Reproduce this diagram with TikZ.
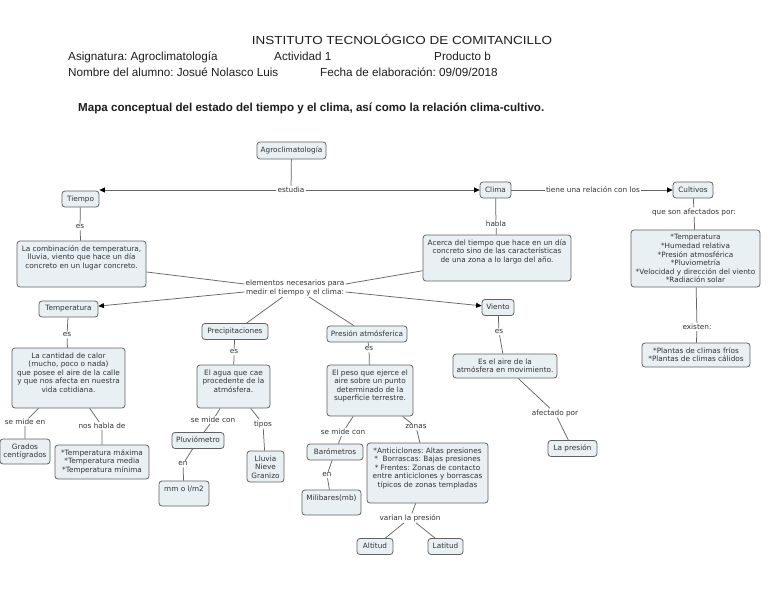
\documentclass[tikz,border=0pt]{standalone}
\usepackage{graphicx}
\usepackage{fontspec}
\setmainfont{Liberation Sans}
\newfontfamily\mapfont{DejaVu Sans}
\usetikzlibrary{arrows.meta,calc}
\frenchspacing
\definecolor{boxfill}{HTML}{E8F0F4}
\definecolor{boxline}{HTML}{626262}
\definecolor{linkline}{HTML}{666666}
\definecolor{maptext}{HTML}{333333}
\definecolor{hdrtext}{HTML}{1E1E1E}
\newcommand\cpt[3]{\parbox[c][#2pt][t]{#1pt}{\centering\vspace*{4.5pt}#3}}
\begin{document}
\begin{tikzpicture}[x=1pt,y=-1pt,
  concept/.style={draw=boxline, fill=boxfill, rounded corners=3pt, line width=0.8pt,
    font=\mapfont\fontsize{7.3}{8.6}\selectfont, text=maptext, inner sep=0pt},
  linkph/.style={align=center, font=\mapfont\fontsize{7.3}{8.6}\selectfont, text=maptext, inner sep=1pt},
  conn/.style={draw=linkline, line width=0.75pt},
  arr/.style={conn, -{Triangle[length=5.5pt,width=5pt,color=black]}},
  hdr/.style={font=\fontsize{11.7}{13}\selectfont, text=hdrtext, inner sep=0pt, anchor=base west}]
\useasboundingbox[fill=white] (0,0) rectangle (768,594);

% header
\node[hdr, anchor=base] (h1) at (402,45) {\scalebox{1.15}[1]{INSTITUTO TECNOLÓGICO DE COMITANCILLO}};
\node[hdr] (h2) at (68,60) {Asignatura: Agroclimatología};
\node[hdr] (h3) at (274,60) {Actividad 1};
\node[hdr] (h4) at (434,60) {Producto b};
\node[hdr] (h5) at (68,76) {Nombre del alumno: Josué Nolasco Luis};
\node[hdr] (h6) at (320,76) {Fecha de elaboración: 09/09/2018};
\node[hdr, font=\bfseries\fontsize{11.6}{13}\selectfont] (h7) at (78,111) {Mapa conceptual del estado del tiempo y el clima, así como la relación clima-cultivo.};

% concepts
\node[concept] (agro) at (291.5,150.5) {\cpt{69}{17}{Agroclimatología}};
\node[concept] (tiempo) at (80.5,199) {\cpt{37}{16}{Tiempo}};
\node[concept] (clima) at (495.5,190) {\cpt{31}{16}{Clima}};
\node[concept] (cultivos) at (693,190) {\cpt{40}{16}{Cultivos}};
\node[concept] (comb) at (81.5,264) {\cpt{129}{46}{La combinación de temperatura,\\ lluvia, viento que hace un día\\ concreto en un lugar concreto.}};
\node[concept] (acerca) at (497,258) {\cpt{148}{46}{Acerca del tiempo que hace en un día\\ concreto sino de las características\\ de una zona a lo largo del año.}};
\node[concept] (props) at (695.5,258.5) {\cpt{129}{57}{{}*Temperatura\\{}*Humedad relativa\\{}*Presión atmosférica\\{}*Pluviometría\\{}*Velocidad y dirección del viento\\{}*Radiación solar}};
\node[concept] (plantas) at (696,355) {\cpt{108}{24}{{}*Plantas de climas fríos\\{}*Plantas de climas cálidos}};
\node[concept] (temp) at (68.5,309) {\cpt{59}{16}{Temperatura}};
\node[concept] (precip) at (235,331.5) {\cpt{66}{16}{Precipitaciones}};
\node[concept] (presion) at (367,334) {\cpt{80}{16}{Presión atmósferica}};
\node[concept] (viento) at (498,307.5) {\cpt{32}{16}{Viento}};
\node[concept] (calor) at (68.5,378) {\cpt{113}{60}{La cantidad de calor\\ (mucho, poco o nada)\\ que posee el aire de la calle\\ y que nos afecta en nuestra\\ vida cotidiana.}};
\node[concept] (grados) at (25,451.5) {\cpt{50}{25}{Grados\\ centígrados}};
\node[concept] (tmax) at (102,462) {\cpt{94}{34}{{}*Temperatura máxima\\{}*Temperatura media\\{}*Temperatura mínima}};
\node[concept] (agua) at (233.5,386.5) {\cpt{73}{43}{El agua que cae\\ procedente de la\\ atmósfera.}};
\node[concept] (pluvio) at (198,440.5) {\cpt{52}{16}{Pluviómetro}};
\node[concept] (mm) at (184,493.5) {\cpt{50}{25}{mm o l/m2}};
\node[concept] (lluvia) at (265.5,466.5) {\cpt{37}{31}{Lluvia\\ Nieve\\ Granizo}};
\node[concept] (peso) at (370,390.5) {\cpt{86}{51}{El peso que ejerce el\\ aire sobre un punto\\ determinado de la\\ superficie terrestre.}};
\node[concept] (barom) at (335,452) {\cpt{56}{16}{Barómetros}};
\node[concept] (milib) at (331.5,502.5) {\cpt{59}{25}{Milibares(mb)}};
\node[concept] (antic) at (427.5,473) {\cpt{121}{60}{{}*Anticiclones: Altas presiones\\{}*\ \ Borrascas: Bajas presiones\\{}* Frentes: Zonas de contacto\\ entre anticiclones y borrascas\\ típicos de zonas templadas}};
\node[concept] (altitud) at (375,546.5) {\cpt{36}{16}{Altitud}};
\node[concept] (latitud) at (445.5,546.5) {\cpt{35}{16}{Latitud}};
\node[concept] (aire) at (505,366) {\cpt{104}{24}{Es el aire de la\\ atmósfera en movimiento.}};
\node[concept] (lapres) at (572.5,448.5) {\cpt{49}{16}{La presión}};

% linking phrases
\node[linkph] (estudia) at (291,190) {estudia};
\node[linkph] (tiene) at (593,190) {tiene una relación con los};
\node[linkph] (esT) at (80,227) {es};
\node[linkph] (habla) at (496,224) {habla};
\node[linkph] (afect) at (694,212) {que son afectados por:};
\node[linkph] (existen) at (697,327) {existen:};
\node[linkph] (elem) at (295,288) {elementos necesarios para\\ medir el tiempo y el clima:};
\node[linkph] (esTe) at (67,335) {es};
\node[linkph] (esPr) at (234,352) {es};
\node[linkph] (esPe) at (369,349) {es};
\node[linkph] (esVi) at (499,332) {es};
\node[linkph] (midT) at (25,422) {se mide en};
\node[linkph] (habT) at (102,426) {nos habla de};
\node[linkph] (midP) at (213,420) {se mide con};
\node[linkph] (tipos) at (263,424) {tipos};
\node[linkph] (enP) at (183,464) {en};
\node[linkph] (midPe) at (343,432) {se mide con};
\node[linkph] (zonas) at (416,427) {zonas};
\node[linkph] (enB) at (327,475) {en};
\node[linkph] (varian) at (410,518) {varían la presión};
\node[linkph] (afpor) at (555,413) {afectado por};

% connectors
\draw[conn] (agro) -- (estudia);
\draw[arr] (estudia.west) -- (tiempo.north east |- estudia.west);
\draw[arr] (estudia) -- (clima);
\draw[conn] (clima) -- (tiene);
\draw[arr] (tiene) -- (cultivos);
\draw[conn] (tiempo) -- (esT) -- (comb);
\draw[conn] (clima) -- (habla) -- (acerca);
\draw[conn] (cultivos) -- (afect) -- (props);
\draw[conn] (props) -- (existen) -- (plantas);
\draw[conn] (comb) -- ($(elem.west)+(0,-4)$);
\draw[conn] (acerca) -- ($(elem.east)+(0,-4)$);
\draw[arr] ($(elem.west)+(0,4)$) -- (temp);
\draw[arr] ($(elem.east)+(0,4)$) -- (viento);
\draw[conn] (elem) -- (precip);
\draw[conn] (elem) -- (presion);
\draw[conn] (temp) -- (esTe) -- (calor);
\draw[conn] (calor) -- (midT) -- (grados);
\draw[conn] (calor) -- (habT) -- (tmax);
\draw[conn] (precip) -- (esPr) -- (agua);
\draw[conn] (agua) -- (midP) -- (pluvio);
\draw[conn] (agua) -- (tipos) -- (lluvia);
\draw[conn] (pluvio) -- (enP) -- (mm);
\draw[conn] (presion) -- (esPe) -- (peso);
\draw[conn] (peso) -- (midPe) -- (barom);
\draw[conn] (peso) -- (zonas) -- (antic);
\draw[conn] (barom) -- (enB) -- (milib);
\draw[conn] (antic) -- (varian);
\draw[conn] (varian) -- (altitud);
\draw[conn] (varian) -- (latitud);
\draw[conn] (viento) -- (esVi) -- (aire);
\draw[conn] (aire) -- (afpor) -- (lapres);
\end{tikzpicture}
\end{document}
